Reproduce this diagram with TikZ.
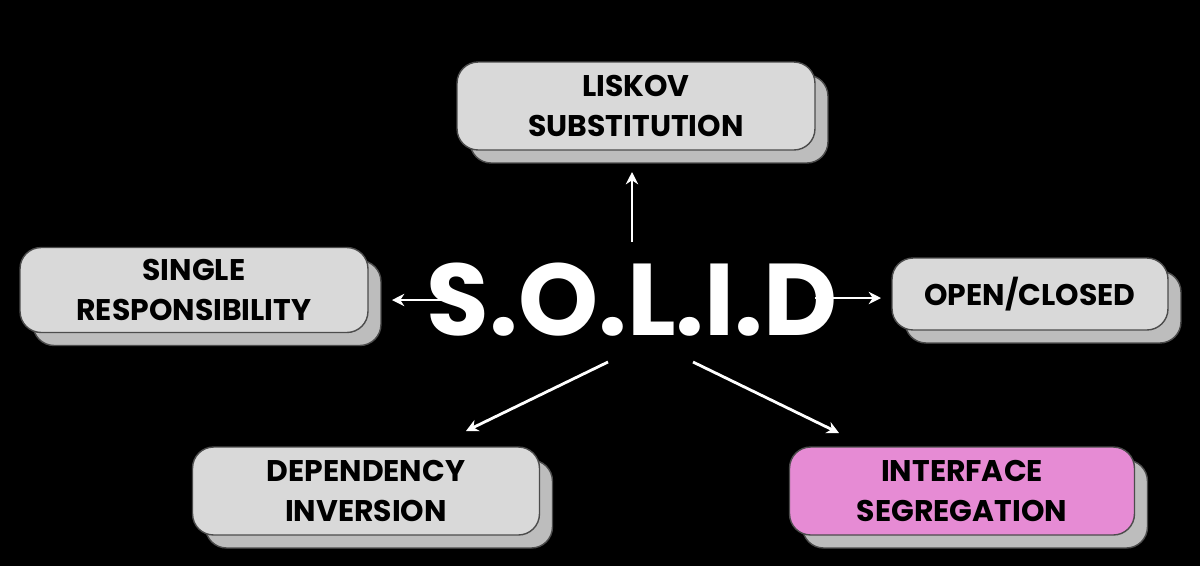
\documentclass[tikz,border=0pt]{standalone}
\usepackage{fontspec}
\setmainfont{Poppins}
\usetikzlibrary{shadows,arrows.meta}
\definecolor{boxgray}{HTML}{D9D9D9}
\definecolor{shadegray}{HTML}{BDBDBD}
\definecolor{boxpink}{HTML}{E68BD4}
\begin{document}
\begin{tikzpicture}[
        x=0.02cm, y=-0.02cm,
        principle/.style={draw=black!70, line width=0.8pt, rounded corners=12pt,
            fill=boxgray, align=center, inner sep=0pt,
            font=\fontsize{17}{23}\selectfont\bfseries,
            copy shadow={shadow xshift=0.26cm, shadow yshift=-0.26cm,
                fill=shadegray, draw=black!70}},
        link/.style={-{Stealth[length=7pt,width=7pt]}, white, line width=1.6pt}
    ]
    \fill[black] (0,0) rectangle (1200,566);

    % centre word
    \node[white, font=\fontsize{58}{60}\selectfont\bfseries] (solid) at (632,300) {S.O.L.I.D};

    % principles
    \node[principle, minimum width=7.16cm, minimum height=1.76cm] (lsp) at (636,106) {LISKOV\\SUBSTITUTION};
    \node[principle, minimum width=6.96cm, minimum height=1.7cm] (srp) at (194,290) {SINGLE\\RESPONSIBILITY};
    \node[principle, minimum width=5.52cm, minimum height=1.44cm] (ocp) at (1030,294) {OPEN/CLOSED};
    \node[principle, minimum width=6.94cm, minimum height=1.76cm] (dip) at (366,491) {DEPENDENCY\\INVERSION};
    \node[principle, fill=boxpink, minimum width=6.9cm, minimum height=1.76cm] (isp) at (962,491) {INTERFACE\\SEGREGATION};

    % arrow ends
    \coordinate (up0) at (632,242);   \coordinate (up1) at (632,172);
    \coordinate (lf0) at (447,300);   \coordinate (lf1) at (392,300);
    \coordinate (rt0) at (815,298);   \coordinate (rt1) at (881,298);
    \coordinate (dl0) at (608,362);   \coordinate (dl1) at (466,431);
    \coordinate (dr0) at (693,362);   \coordinate (dr1) at (839,433);

    \draw[link] (up0) -- (up1);
    \draw[link] (lf0) -- (lf1);
    \draw[link] (rt0) -- (rt1);
    \draw[link] (dl0) -- (dl1);
    \draw[link] (dr0) -- (dr1);
\end{tikzpicture}
\end{document}
